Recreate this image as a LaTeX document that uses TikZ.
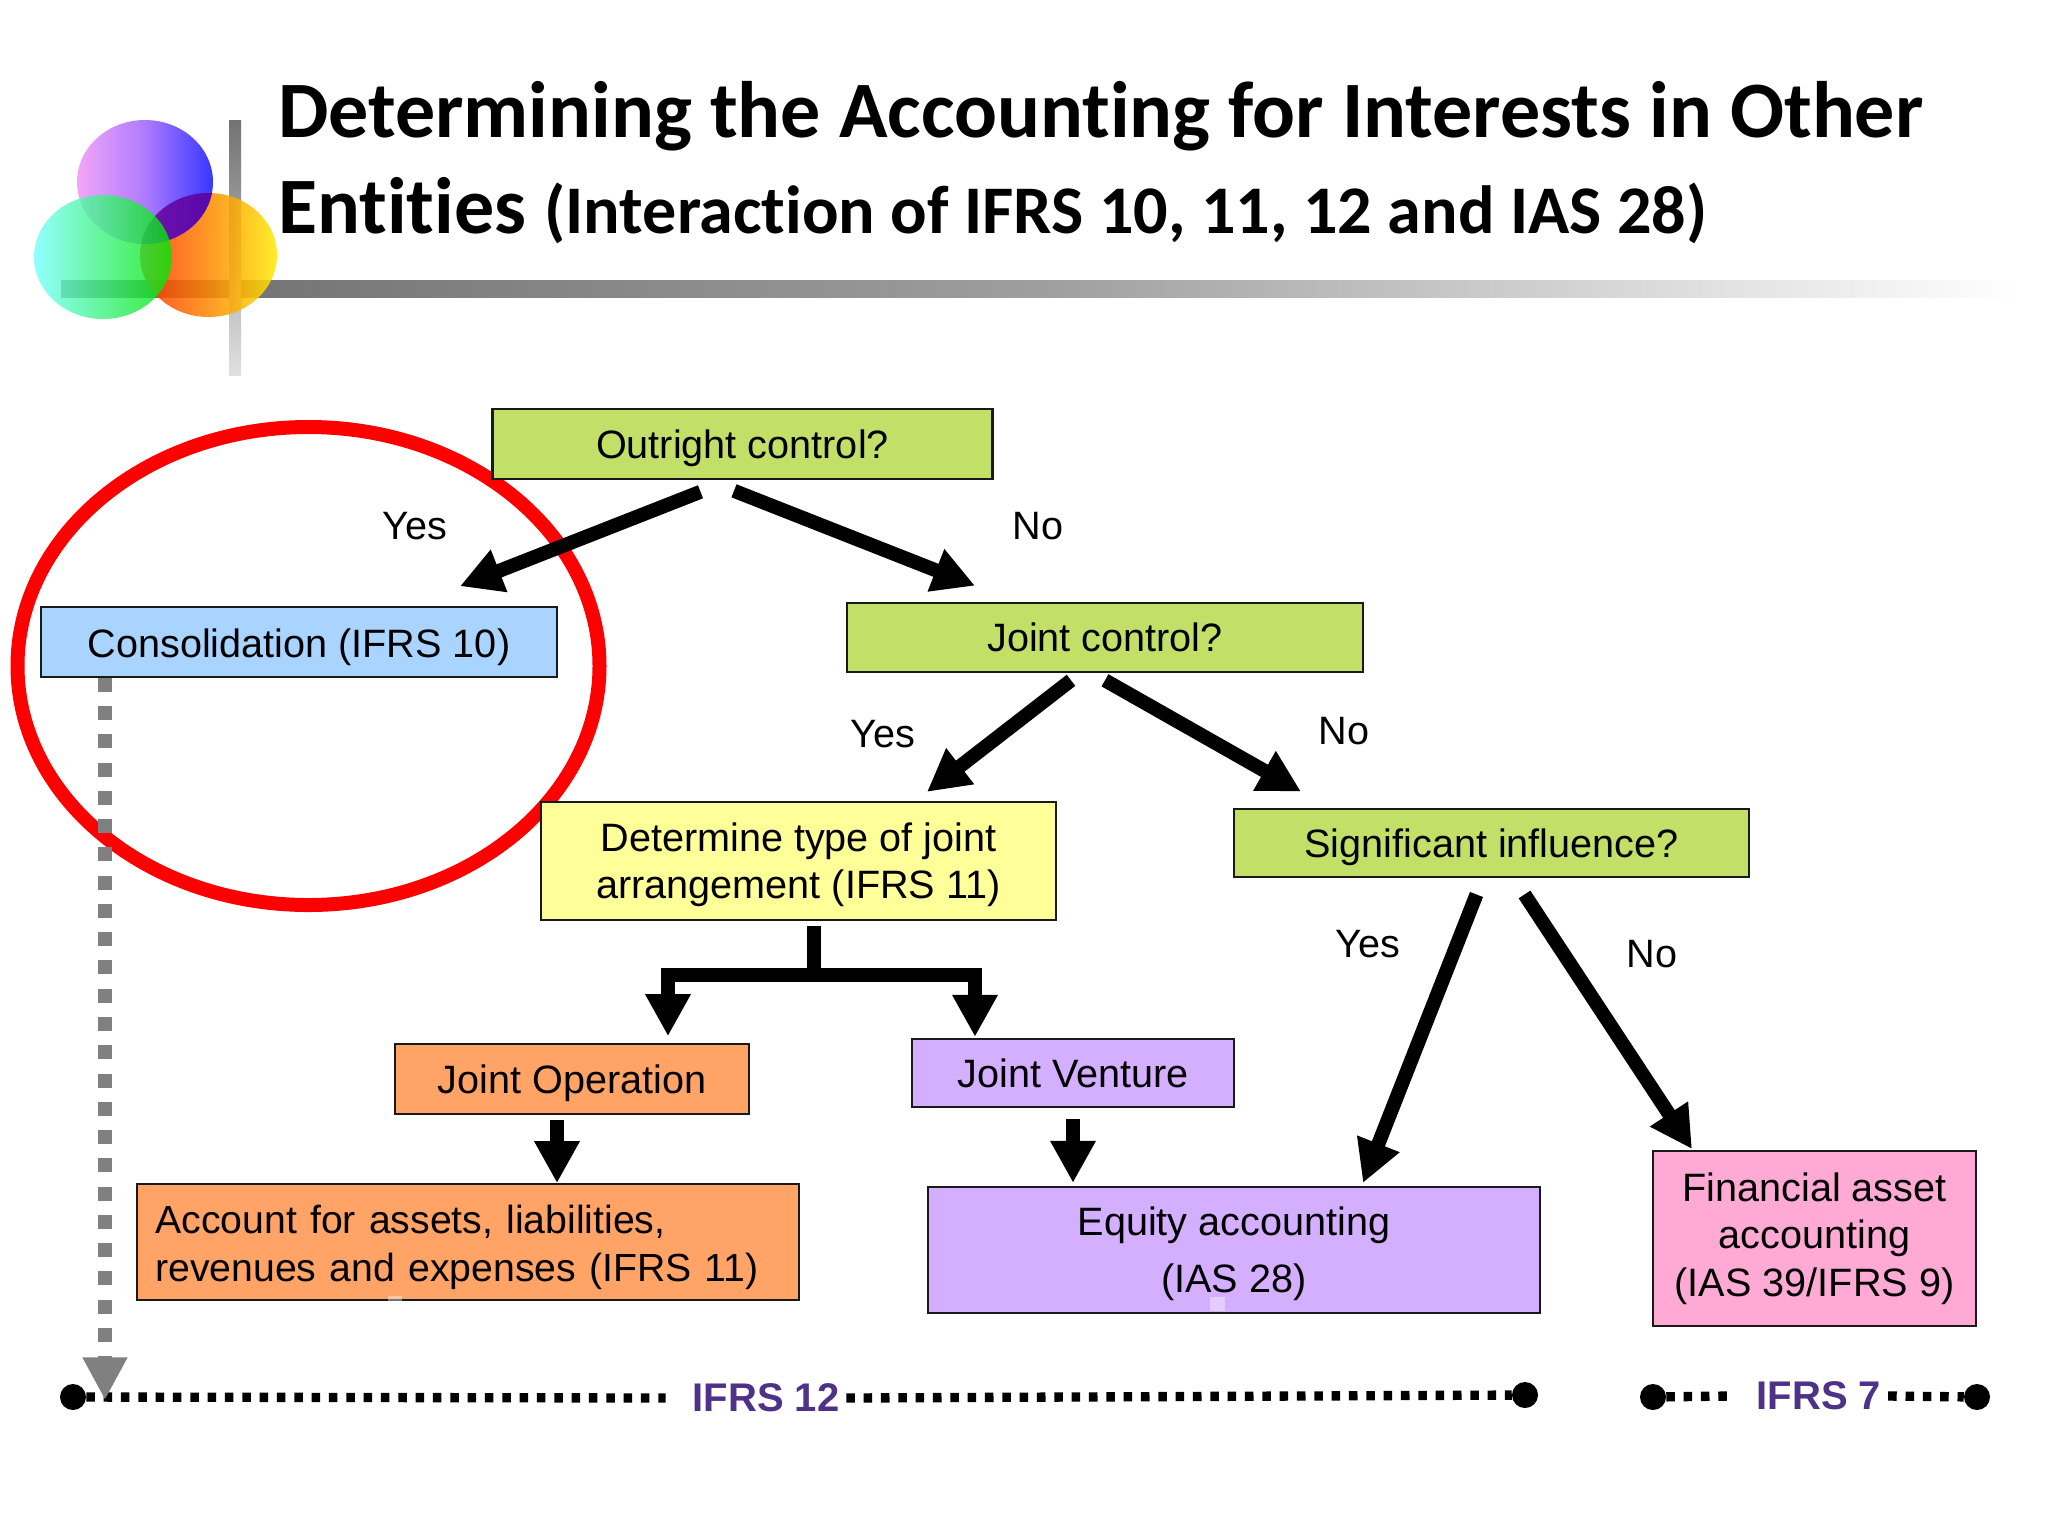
\documentclass[tikz,border=0pt]{standalone}
\usepackage{fontspec}
\setmainfont{Liberation Sans}
\newfontfamily\titlefont[Ligatures=CommonOff]{Carlito}
\usetikzlibrary{arrows.meta,calc}

\definecolor{boxgreen}{HTML}{C2E068}
\definecolor{boxblue}{HTML}{A9D4FF}
\definecolor{boxyellow}{HTML}{FFFF99}
\definecolor{boxorange}{HTML}{FFA366}
\definecolor{boxpurple}{HTML}{D4AEFF}
\definecolor{boxpink}{HTML}{FFAAD4}
\definecolor{ifrsviolet}{HTML}{4E3188}
\definecolor{ballredL}{HTML}{FF3200}
\definecolor{ballredM}{HTML}{FF8700}
\definecolor{ballredR}{HTML}{FFEB00}
\definecolor{ballblueL}{HTML}{F096F5}
\definecolor{ballblueM}{HTML}{A064FF}
\definecolor{ballblueR}{HTML}{1414FF}
\definecolor{ballgreenL}{HTML}{78FFFF}
\definecolor{ballgreenR}{HTML}{00E600}

\newcommand{\sunk}[2][2.95pt]{\raisebox{-#1}[\height][\depth]{#2}}

\tikzset{
  flowbox/.style={draw=black!90,line width=1.7pt,inner sep=0pt,align=center,
    font=\fontsize{29.7}{35.5}\selectfont},
  answer/.style={inner sep=0pt,font=\fontsize{29.7}{34}\selectfont},
  bigarrow/.style={line width=10.5pt,-{Triangle[length=31.5pt,width=32pt]}},
  greyarrow/.style={draw=black!50,line width=10.5pt,dash pattern=on 10.5pt off 10.7pt,
    -{Triangle[length=32pt,width=31.5pt]}},
  dotline/.style={line width=7pt,dash pattern=on 6.4pt off 6.6pt},
  enddot/.style={circle,fill=black,inner sep=0pt,minimum size=19.5pt},
  standard/.style={inner sep=0pt,text=ifrsviolet,font=\fontsize{30}{34}\selectfont\bfseries}
}

\begin{document}
\begin{tikzpicture}[x=0.75pt,y=0.75pt,yscale=-1,xscale=1]
\useasboundingbox (0,0) rectangle (2048,1536);

%Title rules
\shade [left color=black!58,right color=white,middle color=black!38] (61,280) rectangle (2020,297);
\shade [top color=black!55,bottom color=black!12] (229,120) rectangle (241,375);

%Logo
\shade [left color=ballredL,right color=ballredR,middle color=ballredM,opacity=0.85] (208.5,255) ellipse [x radius=68.5, y radius=62];
\shade [left color=ballblueL,right color=ballblueR,middle color=ballblueM,opacity=0.85] (145,182) ellipse [x radius=68, y radius=62];
\begin{scope}
\clip (208.5,255) ellipse [x radius=68.5, y radius=62];
\fill [color=violet!75!blue,opacity=0.8] (145,182) ellipse [x radius=68, y radius=62];
\end{scope}
\shade [left color=ballgreenL,right color=ballgreenR,opacity=0.8] (103,257) ellipse [x radius=69, y radius=62];

% Text Node
\node [anchor=base west,inner sep=0pt,font=\titlefont\bfseries\fontsize{60}{64}\selectfont] (titletop) at (278,137) {Determining the Accounting for Interests in Other};
% Text Node
\node [anchor=base west,inner sep=0pt,font=\titlefont\bfseries\fontsize{60}{64}\selectfont] (titlebot) at (278,233) {Entities {\fontsize{51.1}{55}\selectfont (Interaction of IFRS 10, 11, 12 and IAS 28)}};

%Red ring
\draw [color=red,line width=10.5pt] (308.5,666) ellipse [x radius=291, y radius=239];

%Boxes
\node [flowbox,fill=boxgreen,minimum width=375pt,minimum height=52pt] (outright) at (742.5,444) {\sunk{Outright control?}};
\node [flowbox,fill=boxblue,minimum width=386.5pt,minimum height=52pt] (consol) at (299,642) {\sunk[3.9pt]{Consolidation (IFRS 10)}};
\node [flowbox,fill=boxgreen,minimum width=386.5pt,minimum height=52pt] (joint) at (1105,637.5) {Joint control?};
\node [flowbox,fill=boxyellow,minimum width=386.5pt,minimum height=88.5pt] (determine) at (798.5,861) {\sunk{Determine type of joint}\\\sunk{arrangement (IFRS 11)}};
\node [flowbox,fill=boxgreen,minimum width=386pt,minimum height=51.5pt] (signif) at (1491.5,843) {\sunk{Significant influence?}};
\node [flowbox,fill=boxorange,minimum width=266pt,minimum height=52pt] (jointop) at (572,1079) {\sunk{Joint Operation}};
\node [flowbox,fill=boxpurple,minimum width=241pt,minimum height=51pt] (jointvent) at (1073,1073) {Joint Venture};
\node [flowbox,fill=boxorange,align=left,minimum width=496pt,minimum height=86.6pt,text width=469pt] (account) at (468,1242) {\fontsize{29.4}{35.5}\selectfont \sunk[3.9pt]{Account for assets, liabilities,}\\\sunk[3.9pt]{revenues and expenses (IFRS 11)}};
\node [flowbox,fill=boxpurple,minimum width=459pt,minimum height=94.5pt] (equity) at (1234,1250) {\sunk{Equity accounting}\\[7pt]\sunk{(IAS 28)}};
\node [flowbox,fill=boxpink,minimum width=242pt,minimum height=131pt] (financial) at (1814.5,1238.5) {Financial asset\\accounting\\(IAS 39/IFRS 9)};
\fill [white,opacity=0.4] (388,1296) rectangle (402,1302);
\fill [white,opacity=0.4] (1210,1297) rectangle (1225,1311);

%Yes and No
\node [answer] (yesa) at (415,526) {Yes};
\node [answer] (noa) at (1038,526) {No};
\node [answer] (yesb) at (883,734) {Yes};
\node [answer] (nob) at (1344,731) {No};
\node [answer] (yesc) at (1368,944) {Yes};
\node [answer] (noc) at (1652,954) {No};

%Decision arrows
\draw [bigarrow] ($(outright.south)+(-42,12)$) -- ($(consol.north)+(161,-20)$);
\draw [bigarrow] ($(outright.south)+(-8.5,11)$) -- ($(joint.north)+(-130,-16)$);
\draw [bigarrow] ($(joint.south)+(-34,7)$) -- ($(determine.north)+(128.5,-9)$);
\draw [bigarrow] ($(joint.south)+(0,7)$) -- ($(signif.north)+(-190.5,-16)$);
\draw [bigarrow] ($(signif.south)+(-15,16)$) -- ($(equity.north)+(129,-3)$);
\draw [bigarrow] ($(signif.south)+(33,16)$) -- ($(financial.north)+(-122.5,-1)$);
%Fork under joint arrangement
\coordinate (fork) at ($(determine.south)+(15.5,54)$);
\draw [line width=10.5pt] ($(determine.south)+(15.5,5)$) -- (fork);
\draw [bigarrow] (fork) -| ($(jointop.north)+(96,-7)$);
\draw [bigarrow] (fork) -| ($(jointvent.north)+(-98,-1)$);
\draw [bigarrow] ($(jointop.south)+(-15,5)$) -- ($(account.north)+(89,0)$);
\draw [bigarrow] ($(jointvent.south)+(0,11)$) -- ($(equity.north)+(-161,-3)$);

%Disclosure lines
\node [enddot] (dota) at (73,1397) {};
\node [enddot] (dotb) at (1525,1395) {};
\node [enddot] (dotc) at (1653,1397) {};
\node [enddot] (dotd) at (1977,1397) {};
\node [standard] (ifrstw) at (766,1398) {IFRS 12};
\node [standard] (ifrsse) at (1819,1396) {IFRS 7};
\draw [dotline] (dota) -- ([xshift=-20pt]ifrstw.west);
\draw [dotline] ([xshift=5pt]ifrstw.east) -- (dotb);
\draw [dotline] (dotc) -- ([xshift=-19pt]ifrsse.west);
\draw [dotline] ([xshift=5pt]ifrsse.east) -- (dotd);

%Grey arrow
\coordinate (greytip) at (105,1400);
\draw [greyarrow] (consol.south west -| greytip) -- (greytip);

\end{tikzpicture}
\end{document}
